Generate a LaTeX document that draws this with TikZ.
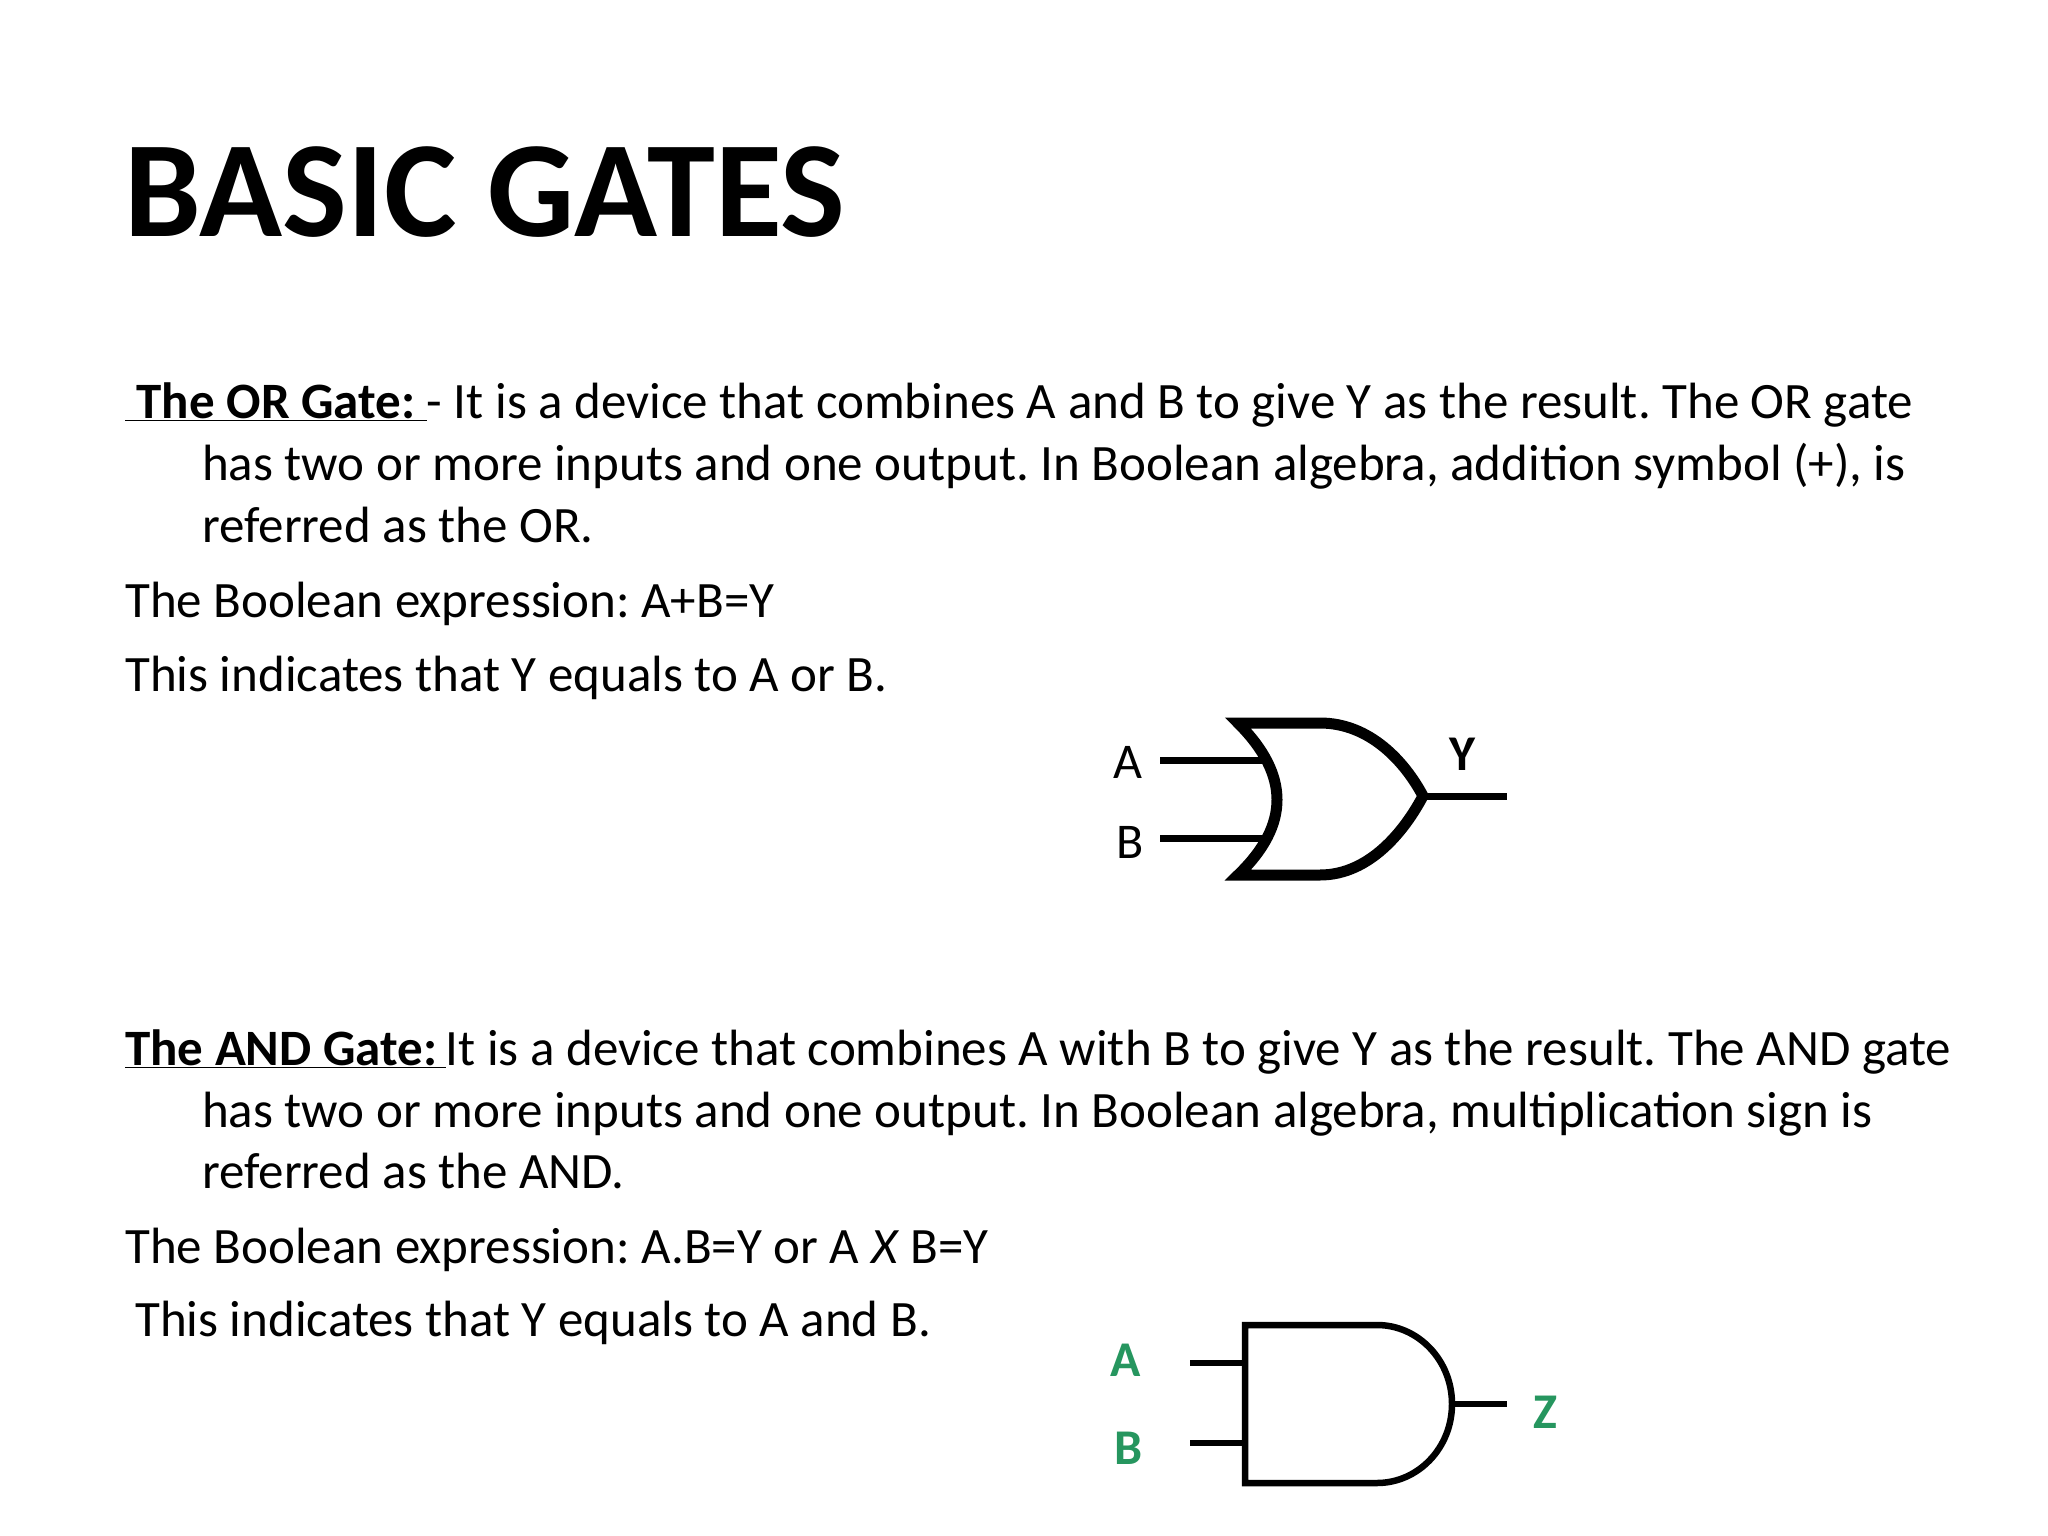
\documentclass[tikz,border=0pt]{standalone}
\usepackage{fontspec}
\setmainfont{Carlito}
\definecolor{gatgreen}{RGB}{38,150,95}
\frenchspacing
\begin{document}
\begin{tikzpicture}[x=1pt,y=-1pt,
  body/.style={anchor=base west,inner sep=0pt,font=\fontsize{51}{60}\selectfont},
  lab/.style={font=\fontsize{50}{55}\selectfont},
  glab/.style={text=gatgreen,font=\fontsize{50}{55}\selectfont\bfseries},
  gate/.style={line width=11pt,line join=miter},
  wire/.style={line width=7pt}]
\useasboundingbox[fill=white] (0,0) rectangle (2048,1536);
\node[anchor=base west,inner sep=0pt,font=\fontsize{137}{150}\selectfont\bfseries] (title) at (124,236) {BASIC GATES};
% OR text
\node[body] (o1) at (125,418) {\underline{\textbf{\ The OR Gate:\ }}- It is a device that combines A and B to give Y as the result. The OR gate};
\node[body] (o2) at (202,480) {has two or more inputs and one output. In Boolean algebra, addition symbol (+), is};
\node[body] (o3) at (202,542) {referred as the OR.};
\node[body] (o4) at (125,617) {The Boolean expression: A+B=Y};
\node[body] (o5) at (125,691) {This indicates that Y equals to A or B.};
% AND text
\node[body] (a1) at (125,1065) {\underline{\textbf{The AND Gate:\,}}It is a device that combines A with B to give Y as the result. The AND gate};
\node[body] (a2) at (202,1127) {has two or more inputs and one output. In Boolean algebra, multiplication sign is};
\node[body] (a3) at (202,1188) {referred as the AND.};
\node[body] (a4) at (125,1263) {The Boolean expression: A.B=Y or A \textit{X} B=Y};
\node[body] (a5) at (135,1336) {This indicates that Y equals to A and B.};
% OR gate
\node[lab] (orA) at (1128,762) {A};
\node[lab] (orB) at (1130,842) {B};
\node[lab,font=\fontsize{50}{55}\selectfont\bfseries] (orY) at (1462,754) {Y};
\coordinate (orAin) at (1160,760);
\coordinate (orBin) at (1160,838);
\coordinate (orAg) at (1264,760);
\coordinate (orBg) at (1264,838);
\coordinate (orT) at (1423,796);
\coordinate (orOut) at (1507,796);
\draw[gate] (1238,723) .. controls (1290,775) and (1290,825) .. (1238,875)
  -- (1320,875) .. controls (1370,875) and (1405,830) .. (orT)
  .. controls (1405,762) and (1370,723) .. (1320,723) -- cycle;
\draw[wire] (orAin) -- (orAg);
\draw[wire] (orBin) -- (orBg);
\draw[wire] (orT) -- (orOut);
% AND gate
\node[glab] (anA) at (1126,1360) {A};
\node[glab] (anB) at (1128,1448) {B};
\node[glab] (anZ) at (1545,1412) {Z};
\coordinate (anT) at (1452,1404);
\draw[line width=6.5pt,line join=miter] (1245,1325) -- (1377,1325)
  .. controls (1418,1325) and (1452,1360) .. (anT)
  .. controls (1452,1448) and (1418,1483) .. (1377,1483) -- (1245,1483) -- cycle;
\draw[line width=6pt] (1190,1363) -- (1245,1363);
\draw[line width=6pt] (1190,1443) -- (1245,1443);
\draw[line width=6pt] (anT) -- (1507,1404);
\end{tikzpicture}
\end{document}
